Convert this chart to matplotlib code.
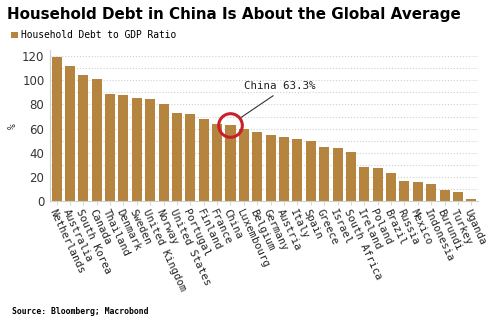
import matplotlib.pyplot as plt
from matplotlib.ticker import MultipleLocator

countries = ["Netherlands", "Australia", "South Korea", "Canada", "Thailand",
             "Denmark", "Sweden", "United Kingdom", "Norway", "United States",
             "Portugal", "Finland", "France", "China", "Luxembourg", "Belgium",
             "Germany", "Austria", "Italy", "Spain", "Greece", "Israel",
             "South Africa", "Ireland", "Poland", "Brazil", "Russia", "Mexico",
             "Indonesia", "Burundi", "Turkey", "Uganda"]
debt_ratio = [119.5, 112.2, 104.7, 100.8, 88.9, 87.8, 85.6, 84.4, 80.3, 73.1,
              72.5, 67.8, 63.9, 63.3, 60.0, 57.2, 55.0, 53.3, 51.7, 49.4,
              44.4, 43.6, 40.3, 28.3, 27.5, 23.0, 16.4, 15.6, 14.4, 8.9,
              7.8, 2.0]

BAR = '#B5843E'
mono = 'DejaVu Sans Mono'

fig = plt.figure(figsize=(5, 3.3), dpi=100)
ax = fig.add_axes([0.1, 0.391, 0.856, 0.457])

x = range(len(countries))
ax.bar(x, debt_ratio, width=0.75, color=BAR, zorder=2,
       label='Household Debt to GDP Ratio')

ax.set_xlim(-0.49, len(countries) - 0.5)
ax.set_ylim(0, 125)
ax.yaxis.set_major_locator(MultipleLocator(20))
ax.yaxis.set_minor_locator(MultipleLocator(10))
ax.grid(axis='y', which='both', linestyle=':', color='#cfcfcf', linewidth=0.8, zorder=0)

ax.set_xticks(list(x))
ax.set_xticklabels(countries, rotation=-65, ha='left', va='top',
                   rotation_mode='anchor', family=mono, fontsize=7.6,
                   color='#222222')
ax.tick_params(axis='x', length=3, color='#d8d8d8', pad=2)
ax.tick_params(axis='y', which='both', length=0, labelsize=8.5,
               labelcolor='#333333', pad=4)

for s in ['top', 'right']:
    ax.spines[s].set_visible(False)
ax.spines['left'].set_color('#d0d0d0')
ax.spines['bottom'].set_color('#d0d0d0')

ax.set_ylabel('%', family=mono, fontsize=7, color='#333333')
ax.yaxis.set_label_coords(-0.075, 0.5)

# highlight China
ci = countries.index('China')
ax.plot(ci, debt_ratio[ci], 'o', ms=17, mfc='none', mec='#C8202A', mew=2.2,
        zorder=4, clip_on=False)
ax.annotate('China 63.3%', xy=(ci, debt_ratio[ci]), xytext=(14.0, 95),
            ha='left', va='center', family=mono, fontsize=7.8, color='#222222',
            arrowprops=dict(arrowstyle='-', color='#333333', lw=0.8,
                            relpos=(0.5, 0), shrinkA=2, shrinkB=9))

fig.text(0.014, 0.955, 'Household Debt in China Is About the Global Average',
         fontsize=10.9, fontweight='bold', va='center', ha='left')
fig.legend(loc='center left', bbox_to_anchor=(0.022, 0.893), frameon=False,
           prop={'family': mono, 'size': 6.9}, handlelength=0.7,
           handleheight=0.7, handletextpad=0.3, borderpad=0, borderaxespad=0)
fig.text(0.024, 0.057, 'Source: Bloomberg; Macrobond', family=mono,
         fontsize=5.9, fontweight='bold', va='center', ha='left')

plt.savefig('out.png', dpi=100)
